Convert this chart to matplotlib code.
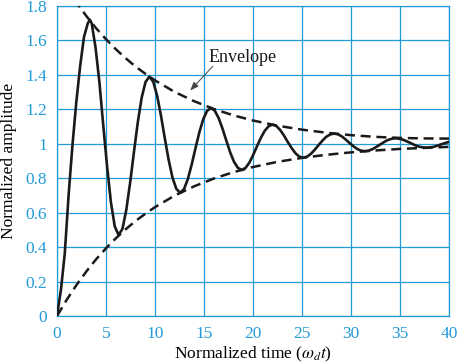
import matplotlib
matplotlib.use("Agg")
import matplotlib.pyplot as plt

# ---- data ----
time_resp = [0.000, 0.393, 0.785, 1.178, 1.571, 1.963, 2.356, 2.749,
             3.142, 3.350, 3.534, 3.927, 4.320, 4.712, 5.105, 5.498, 5.890,
             6.283, 6.676, 7.069, 7.461, 7.854, 8.247, 8.639, 9.032,
             9.425, 9.817, 10.210, 10.603, 10.996, 11.388, 11.781, 12.174,
             12.566, 12.959, 13.352, 13.744, 14.137, 14.530, 14.923, 15.315,
             15.708, 16.101, 16.493, 16.886, 17.279, 17.671, 18.064, 18.457,
             18.850, 19.242, 19.635, 20.028, 20.420, 20.813, 21.206, 21.598,
             21.991, 22.384, 22.777, 23.169, 23.562, 23.955, 24.347, 24.740,
             25.133, 25.525, 25.918, 26.311, 26.704, 27.096, 27.489, 27.882,
             28.274, 28.667, 29.060, 29.452, 29.845, 30.238, 30.631, 31.023,
             31.416, 31.809, 32.201, 32.594, 32.987, 33.379, 33.772, 34.165,
             34.558, 34.950, 35.343, 35.736, 36.128, 36.521, 36.914, 37.306,
             37.699, 38.092, 38.485, 38.877, 39.270, 39.663, 40.000]
amplitude = [0.000, 0.150, 0.360, 0.700, 0.990, 1.240, 1.450, 1.620,
             1.700, 1.720, 1.700, 1.560, 1.360, 1.110, 0.870, 0.660, 0.520,
             0.470, 0.506, 0.616, 0.775, 0.954, 1.127, 1.268, 1.359,
             1.390, 1.360, 1.280, 1.165, 1.033, 0.907, 0.804, 0.738,
             0.715, 0.737, 0.795, 0.880, 0.976, 1.068, 1.143, 1.191,
             1.208, 1.192, 1.149, 1.088, 1.018, 0.950, 0.895, 0.860,
             0.848, 0.860, 0.891, 0.936, 0.987, 1.036, 1.076, 1.102,
             1.111, 1.103, 1.080, 1.047, 1.009, 0.974, 0.944, 0.925,
             0.919, 0.925, 0.942, 0.966, 0.993, 1.019, 1.041, 1.054,
             1.059, 1.055, 1.043, 1.025, 1.005, 0.986, 0.970, 0.960,
             0.957, 0.960, 0.969, 0.982, 0.996, 1.010, 1.022, 1.029,
             1.032, 1.029, 1.023, 1.013, 1.003, 0.992, 0.984, 0.979,
             0.977, 0.979, 0.983, 0.990, 0.998, 1.005, 1.011]

time_env = [0, 1, 2, 3, 4, 5, 6, 7, 8, 9, 10, 12, 14, 16, 18, 20,
            22.5, 25, 27.5, 30, 32.5, 35, 37.5, 40]
env_upper = [2.000, 1.905, 1.819, 1.741, 1.670, 1.607, 1.549, 1.497,
             1.449, 1.407, 1.368, 1.301, 1.247, 1.202, 1.165, 1.135,
             1.105, 1.082, 1.064, 1.050, 1.040, 1.034, 1.031, 1.030]
env_lower = [0.000, 0.095, 0.181, 0.259, 0.330, 0.393, 0.451, 0.503,
             0.551, 0.593, 0.632, 0.699, 0.753, 0.798, 0.835, 0.865,
             0.895, 0.918, 0.936, 0.950, 0.961, 0.970, 0.976, 0.982]

x_ticks = [0, 5, 10, 15, 20, 25, 30, 35, 40]
x_ticklabels = ["0", "5", "10", "15", "20", "25", "30", "35", "40"]
y_ticks = [0, 0.2, 0.4, 0.6, 0.8, 1.0, 1.2, 1.4, 1.6, 1.8]
y_ticklabels = ["0", "0.2", "0.4", "0.6", "0.8", "1", "1.2", "1.4", "1.6", "1.8"]

# ---- style ----
plt.rcParams["font.family"] = ["Liberation Serif", "DejaVu Serif"]
plt.rcParams["mathtext.fontset"] = "stix"
BLUE = "#239bd8"

fig = plt.figure(figsize=(4.6, 3.64), dpi=100)
ax = fig.add_axes([0.124, 0.132, 0.852, 0.8515])

ax.plot(time_env, env_upper, color="#1a1a1a", lw=1.8, ls=(0, (4, 2.3)),
        zorder=3)
ax.plot(time_env, env_lower, color="#1a1a1a", lw=1.8, ls=(0, (4, 2.3)),
        zorder=3)
ax.plot(time_resp, amplitude, color="#1a1a1a", lw=1.9, zorder=4)

ax.set_xlim(0, 40)
ax.set_ylim(0, 1.8)
ax.set_xticks(x_ticks)
ax.set_xticklabels(x_ticklabels)
ax.set_yticks(y_ticks)
ax.set_yticklabels(y_ticklabels)
ax.tick_params(axis="both", length=0, labelsize=12.5, labelcolor=BLUE)
ax.tick_params(axis="x", pad=7)
ax.tick_params(axis="y", pad=7)
ax.grid(True, color=BLUE, lw=0.9)
ax.set_axisbelow(True)
for sp in ax.spines.values():
    sp.set_color(BLUE)
    sp.set_linewidth(0.9)

ax.set_xlabel(r"Normalized time ($\omega_d t$)", fontsize=12.5, labelpad=2)
ax.set_ylabel("Normalized amplitude", fontsize=12.5, labelpad=6)

ax.text(15.5, 1.475, "Envelope", fontsize=13, ha="left", va="baseline",
        color="#1a1a1a", zorder=5)
ax.annotate("", xy=(13.6, 1.31), xytext=(15.9, 1.45),
            arrowprops=dict(arrowstyle="-|>,head_length=0.5,head_width=0.2",
                            color="#444444", lw=0.7, shrinkA=0, shrinkB=0),
            zorder=5)

fig.savefig("out.png", dpi=100)
